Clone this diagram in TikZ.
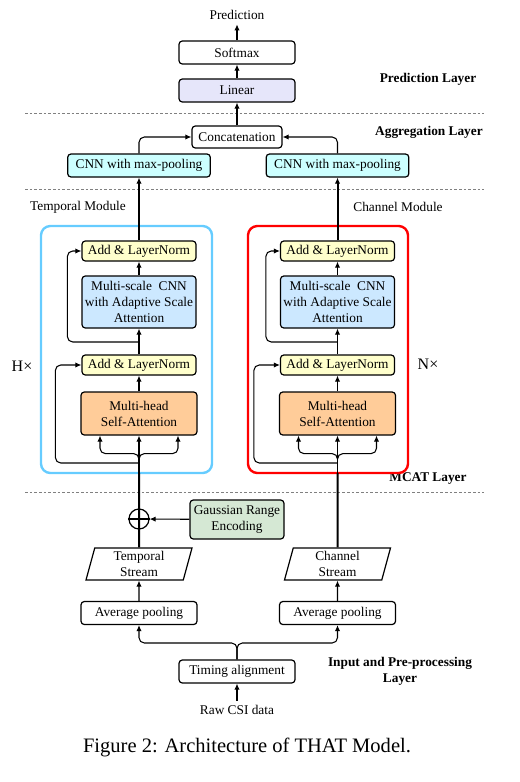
\documentclass[tikz,border=0pt]{standalone}
\usepackage{fontspec}
\setmainfont{Liberation Serif}
\usepackage{xcolor}
\usepackage{tikz}
\usetikzlibrary{calc}
\usetikzlibrary{arrows.meta}
\usetikzlibrary{shapes.geometric}

\definecolor{linfill}{HTML}{E6E6FA}
\definecolor{cnnfill}{HTML}{CCFFFF}
\definecolor{normfill}{HTML}{FFFFCC}
\definecolor{msfill}{HTML}{CCE8FF}
\definecolor{mhfill}{HTML}{FFCC99}
\definecolor{grefill}{HTML}{D5E8D4}
\definecolor{tempblue}{HTML}{66CCFF}

\begin{document}
\begin{tikzpicture}[x=0.75pt,y=-0.75pt,
		box/.style={draw,line width=0.9pt,rounded corners=2.5pt,minimum width=87pt,minimum height=17.25pt,inner sep=1pt,align=center},
		normbox/.style={box,fill=normfill,minimum width=85.5pt,minimum height=15pt},
		flow/.style={-{Latex[length=4.5pt,width=4pt]},line width=0.8pt},
		bigflow/.style={flow,line width=1.5pt},
		sep/.style={gray,dash pattern=on 2pt off 1.5pt,line width=0.6pt},
		layer/.style={font=\bfseries,align=center},
		modframe/.style={rounded corners=7pt,line width=1.8pt},
		stream/.style={draw,trapezium,trapezium left angle=71,trapezium right angle=109,trapezium stretches body,minimum width=79.5pt,minimum height=24pt,inner sep=0pt,align=center,line width=0.9pt}]
		\useasboundingbox (0,0) rectangle (520,782);
		\draw[sep] (25,113) -- (484,113);
		\draw[sep] (25,189) -- (484,189);
		\draw[sep] (25,492) -- (484,492);

		\node (pred) at (237,15) {Prediction};
		\node[box] (softmax) at (237,52.5) {Softmax};
		\node[box,fill=linfill] (linear) at (237,90.5) {Linear};
		\node[box,minimum width=67.5pt,minimum height=16.5pt] (concat) at (237,137) {Concatenation};
		\node[box,fill=cnnfill,minimum width=107pt] (cnnL) at (139,165.5) {CNN with max-pooling};
		\node[box,fill=cnnfill,minimum width=107pt] (cnnR) at (337.5,165.5) {CNN with max-pooling};
		\draw[flow] (softmax) -- (pred);
		\draw[flow] (linear) -- (softmax);
		\draw[flow] (concat) -- (linear);
		\draw[flow,rounded corners=4pt] (cnnL.north) |- (concat.west);
		\draw[flow,rounded corners=4pt] (cnnR.north) |- (concat.east);

		\node[layer] (predlayer) at (428,79) {Prediction Layer};
		\node[layer] (agglayer) at (429,132) {Aggregation Layer};
		\node[layer] (mcatlayer) at (428,479) {MCAT Layer};
		\node[layer] (inlayer) at (400,671) {Input and Pre-processing\\Layer};

		\draw[modframe,tempblue] (41,226) rectangle (212,473);
		\draw[modframe,red] (248,226) rectangle (408,473);
		\node (tmod) at (78,207) {Temporal Module};
		\node (cmod) at (398,207) {Channel Module};
		\node[font=\large] (hx) at (22,366) {H×};
		\node[font=\large] (nx) at (428,364) {N×};

		\foreach \m/\x in {L/139,R/337.5} {
			\node[normbox] (addT\m) at (\x,251) {Add \& LayerNorm};
			\node[box,fill=msfill,minimum width=85.5pt,minimum height=39pt] (ms\m) at (\x,302) {Multi-scale\ \ CNN\\with Adaptive Scale\\Attention};
			\node[normbox] (addB\m) at (\x,365) {Add \& LayerNorm};
			\node[box,fill=mhfill,minimum height=32.25pt] (mh\m) at (\x,413.5) {Multi-head\\Self-Attention};
			\coordinate (in\m) at (\x,473);
			\coordinate (fork\m) at (\x,459);
			\coordinate (low\m) at (\x,463);
			\coordinate (res\m) at (\x,342);
			\draw[flow] (in\m) -- (mh\m.south);
			\draw[flow,rounded corners=4pt] (fork\m) |- ($(mh\m.south)+(-39,18)$) -- ($(mh\m.south)+(-39,0)$);
			\draw[flow,rounded corners=4pt] (fork\m) |- ($(mh\m.south)+(39,18)$) -- ($(mh\m.south)+(39,0)$);
			\draw[flow,rounded corners=4pt] (low\m) -| ($(addB\m.west)+(-26,0)$) -- (addB\m.west);
			\draw[flow,rounded corners=4pt] (res\m) -| ($(addT\m.west)+(-14,0)$) -- (addT\m.west);
			\draw[flow] (mh\m) -- (addB\m);
			\draw[flow] (addB\m) -- (ms\m);
			\draw[flow] (ms\m) -- (addT\m);
		}
		\draw[bigflow] (addTL) -- (cnnL);
		\draw[bigflow] (addTR) -- (cnnR);

		\node[stream] (tsL) at (139,564) {Temporal\\Stream};
		\node[stream] (csR) at (337.5,564) {Channel\\Stream};
		\draw[line width=1.5pt] (tsL.north) -- (inL);
		\draw[line width=1.5pt] (csR.north) -- (inR);
		\node[circle,draw,line width=0.9pt,minimum size=15pt,inner sep=0pt] (plus) at (139,519) {};
		\draw[line width=0.9pt] (plus.west) -- (plus.east);
		\node[box,fill=grefill,minimum width=70.5pt,minimum height=29.25pt] (gre) at (237,519.5) {Gaussian Range\\Encoding};
		\draw[flow] (gre) -- (plus);

		\node[box] (apL) at (139,613) {Average pooling};
		\node[box] (apR) at (337.5,613) {Average pooling};
		\draw[flow] (apL) -- (tsL);
		\draw[flow] (apR) -- (csR);
		\node[box] (timing) at (237,671.5) {Timing alignment};
		\node (raw) at (237,710) {Raw CSI data};
		\coordinate (split) at (237,643);
		\draw[flow] (raw) -- (timing);
		\draw[flow,rounded corners=4pt] (timing.north) -- (split) -| (apL.south);
		\draw[flow,rounded corners=4pt] (timing.north) -- (split) -| (apR.south);

		\node[font=\fontsize{15.4}{18}\selectfont] (caption) at (247,747) {Figure 2: Architecture of THAT Model.};
	\end{tikzpicture}
\end{document}
